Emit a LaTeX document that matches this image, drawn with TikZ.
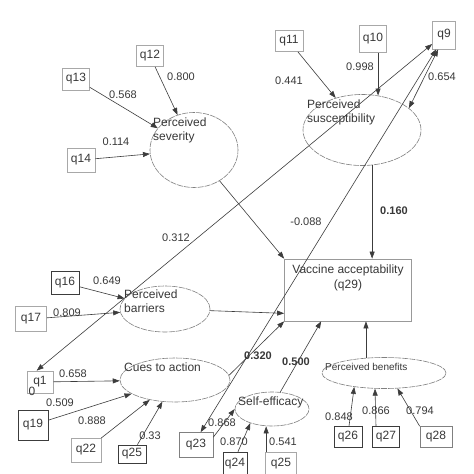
\documentclass[tikz,border=0pt]{standalone}
\usepackage{fontspec}
\setmainfont{Liberation Sans}
\usetikzlibrary{arrows.meta,positioning,shapes.geometric}

\definecolor{inkgray}{HTML}{3C3C3C}
\definecolor{boxgray}{HTML}{A8A8A8}
\definecolor{txtgray}{HTML}{383838}

\begin{document}
\begin{tikzpicture}[
	x=1pt, y=-1pt,
	qtxt/.style={font=\fontsize{12}{13}\selectfont, text=txtgray},
	obs/.style={qtxt, draw=boxgray, line width=0.7pt, minimum width=27pt, minimum height=22pt, inner sep=1pt},
	obsdark/.style={obs, draw=inkgray},
	latent/.style={ellipse, draw=gray, dash pattern=on 6pt off 1pt, line width=0.6pt, inner sep=0pt},
	lname/.style={font=\fontsize{12}{14}\selectfont, text=txtgray, align=left, inner sep=0pt, anchor=north west},
	coef/.style={font=\fontsize{11}{12}\selectfont, text=txtgray, inner sep=0pt},
	coefb/.style={coef, font=\fontsize{11}{12}\selectfont\bfseries},
	reg/.style={-{Triangle[length=7pt,width=5pt]}, draw=inkgray, line width=0.6pt},
	cov/.style={{Triangle[length=7pt,width=5pt]}-{Triangle[length=7pt,width=5pt]}, draw=inkgray, line width=0.6pt}
	]
	
	\useasboundingbox[fill=white] (0,0) rectangle (474,474);
	
	% latent constructs
	\node[latent, minimum width=88pt, minimum height=75pt] (sev) at (194,150) {};
	\node[lname] (sevname) at (153,118) {Perceived\\severity};
	
	\node[latent, minimum width=118pt, minimum height=71pt] (sus) at (362,130) {};
	\node[lname] (susname) at (307,100) {Perceived\\susceptibility};
	
	\node[latent, minimum width=90pt, minimum height=46pt] (bar) at (165,309) {};
	\node[lname] (barname) at (124,290) {Perceived\\barriers};
	
	\node[latent, minimum width=110pt, minimum height=44pt] (cues) at (175,380) {};
	\node[lname] (cuesname) at (124,363) {Cues to action};
	
	\node[latent, minimum width=74pt, minimum height=34pt] (eff) at (272,409) {};
	\node[lname] (effname) at (238,397) {Self-efficacy};
	
	\node[latent, minimum width=124pt, minimum height=31pt] (ben) at (384,373) {};
	\node[lname, font=\fontsize{10}{12}\selectfont] (benname) at (325,363) {Perceived benefits};
	
	% outcome
	\node[draw=gray!80, line width=0.7pt, minimum width=127pt, minimum height=62pt] (vac) at (348,290) {};
	\node[qtxt, align=center, inner sep=0pt, anchor=north, font=\fontsize{12}{15}\selectfont] (vacname) at (348,265) {Vaccine acceptability\\(q29)};
	
	% items
	\node[obs] (q13) at (76,79) {q13};
	\node[obs, minimum height=21pt] (q12) at (150,56) {q12};
	\node[obs, minimum width=28pt, minimum height=24pt] (q14) at (81,160) {q14};
	\node[obs, minimum width=28pt, minimum height=21pt] (q11) at (289,41) {q11};
	\node[obs, minimum height=27pt] (q10) at (373,39) {q10};
	\node[obs, minimum width=23pt, minimum height=28pt] (q9) at (444,35) {q9};
	
	\node[obsdark, minimum width=28pt, minimum height=23pt] (q16) at (65,283) {q16};
	\node[obs, minimum width=31pt, minimum height=25pt] (q17) at (31,319) {q17};
	\node[obs, minimum width=26pt, minimum height=22pt] (qa) at (40,382) {q1};
	\node[qtxt, inner sep=0pt] (qa0) at (32,391) {0};
	\node[obsdark, minimum width=30pt, minimum height=30pt] (q19) at (33,425) {q19};
	\node[obs, minimum width=30pt, minimum height=24pt] (q22) at (86,450) {q22};
	\node[obsdark, minimum width=28pt, minimum height=18pt] (q25a) at (132,454) {q25};
	\node[obs, draw=gray, minimum width=34pt, minimum height=25pt] (q23) at (196,445) {q23};
	\node[obsdark, minimum width=24pt, minimum height=24pt] (q24) at (235,464) {q24};
	\node[obs, minimum width=31pt, minimum height=24pt] (q25b) at (281,464) {q25};
	
	\node[obsdark, minimum width=28pt, minimum height=21pt] (q26) at (348,437) {q26};
	\node[obsdark, minimum height=21pt] (q27) at (386,437) {q27};
	\node[obs, draw=gray, minimum width=32pt, minimum height=21pt] (q28) at (436,437) {q28};
	
	% measurement paths
	\draw[reg] (q12) -- (sev) node[coef] at (181,77) {0.800};
	\draw[reg] (q13) -- (sev) node[coef] at (123,95) {0.568};
	\draw[reg] (q14) -- (sev) node[coef] at (116,142) {0.114};
	\draw[reg] (q11) -- (sus) node[coef] at (289,81) {0.441};
	\draw[reg] (sus.65 |- q10.south) -- (sus.65) node[coef] at (360,67) {0.998};
	\draw[cov] ([xshift=6pt]q9.south west) -- (sus.25) node[coef] at (442,77) {0.654};
	
	\draw[reg] (q16) -- (bar) node[coef] at (107,281) {0.649};
	\draw[reg] (q17) -- (bar) node[coef] at (67,313) {0.809};
	\draw[reg] (qa) -- (cues) node[coef] at (73,374) {0.658};
	\draw[reg] (q19) -- (cues) node[coef] at (60,403) {0.509};
	\draw[reg] (q22) -- (cues) node[coef] at (92,421) {0.888};
	\draw[reg] (q25a) -- (cues) node[coef] at (150,436) {0.33};
	
	\draw[reg] ([yshift=-5pt]q23.north east) -- (eff.west) node[coef] at (222,423) {0.868};
	\draw[reg] ([xshift=3pt]q24.north) -- (eff.213) node[coef] at (234,442) {0.870};
	\draw[reg] ([xshift=1pt]q25b.north west) -- ([xshift=1pt]q25b.north west |- eff.south) node[coef] at (283,442) {0.541};
	
	\draw[reg] ([xshift=1pt]q26.north) -- (ben.205) node[coef] at (339,417) {0.848};
	\draw[reg] ([xshift=-10pt]q27.north) -- (ben.240) node[coef] at (376,411) {0.866};
	\draw[reg] (q28.north west) -- (ben.-49) node[coef] at (420,411) {0.794};
	
	% correlations with q9
	\draw[cov] ([yshift=-9pt]q9.west) -- ([xshift=10pt]qa.north west) node[coef] at (176,238) {0.312};
	\draw[cov] ([xshift=4pt]q9.south west) -- ([xshift=22pt]q23.north west) node[coef] at (306,222) {-0.088};
	
	% structural paths
	\draw[reg] (sev) -- (vac.north west);
	\draw[reg] (sus.-74) -- (sus.-74 |- vac.north) node[coefb] at (394,211) {0.160};
	\draw[reg] (bar) -- ([yshift=8pt]vac.south west);
	\draw[reg] (cues.5) -- (vac.south west) node[coefb] at (258,356) {0.320};
	\draw[reg] (eff.64) -- ([xshift=37pt]vac.south west) node[coefb] at (296,362) {0.500};
	\draw[reg] (ben.140) -- (ben.140 |- vac.south);
	
\end{tikzpicture}
\end{document}
